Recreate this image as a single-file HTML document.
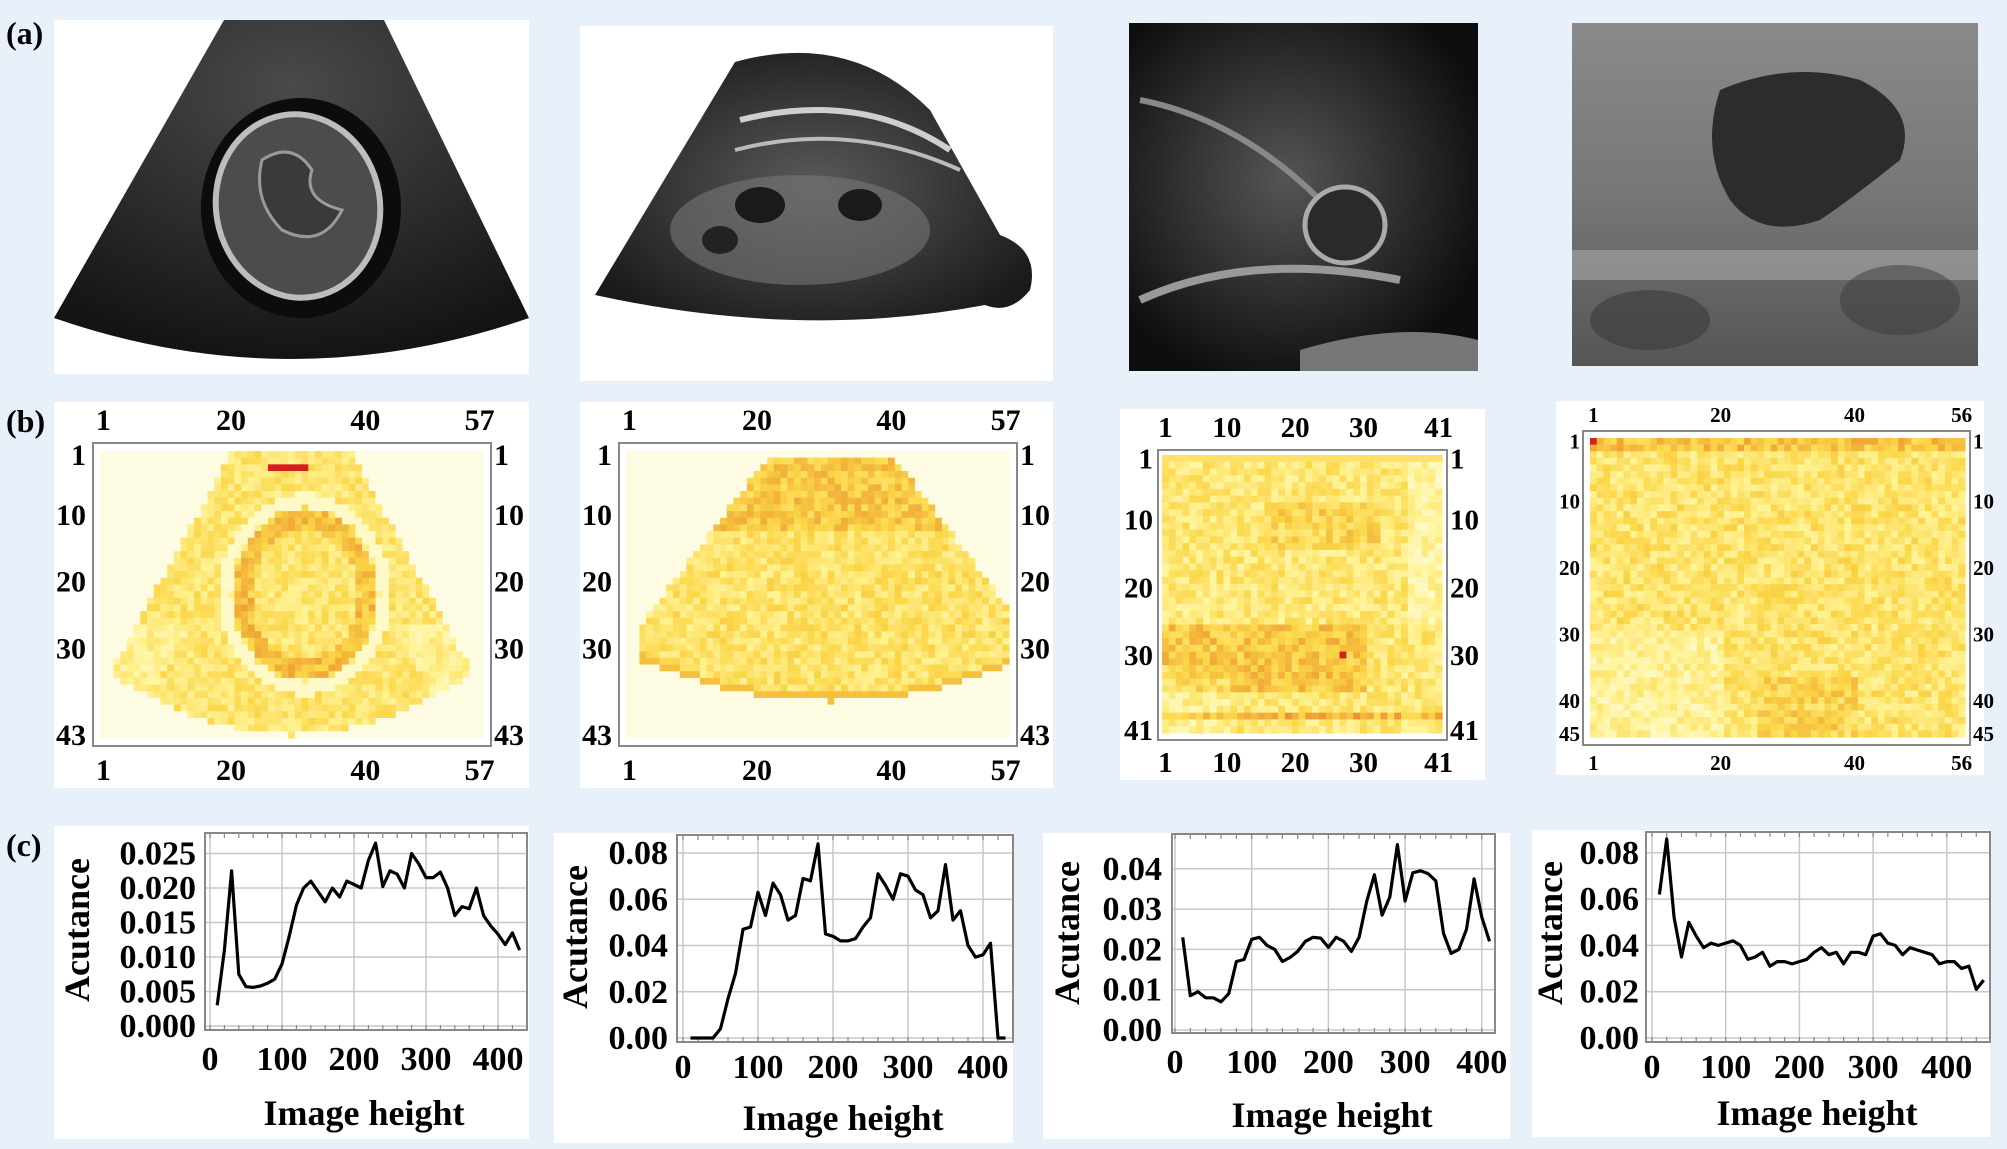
<!DOCTYPE html>
<html><head><meta charset="utf-8">
<style>
html,body{margin:0;padding:0;background:#e8f0fa;}
svg{display:block;font-family:"Liberation Serif",serif;font-weight:bold;}
</style></head>
<body>
<svg id="fig" xmlns="http://www.w3.org/2000/svg" width="2007" height="1149" viewBox="0 0 2007 1149">
<defs>
<radialGradient id="g1" cx="0.5" cy="0.2" r="0.8"><stop offset="0" stop-color="#4a4a4a"/><stop offset="1" stop-color="#141414"/></radialGradient>
<radialGradient id="g2" cx="0.5" cy="0.5" r="0.6"><stop offset="0" stop-color="#5a5a5a"/><stop offset="1" stop-color="#1a1a1a"/></radialGradient>
<radialGradient id="g3" cx="0.45" cy="0.45" r="0.6"><stop offset="0" stop-color="#555"/><stop offset="1" stop-color="#0e0e0e"/></radialGradient>
<linearGradient id="g4" x1="0" y1="0" x2="0" y2="1"><stop offset="0" stop-color="#8a8a8a"/><stop offset="0.5" stop-color="#777"/><stop offset="1" stop-color="#555"/></linearGradient>
</defs>
<rect width="2007" height="1149" fill="#e8f0fa"/>
<text x="6" y="44" font-size="32">(a)</text>
<text x="6" y="432" font-size="32">(b)</text>
<text x="6" y="856" font-size="32">(c)</text>

<g>
<rect x="54" y="20" width="475" height="354" fill="#fff"/>
<path d="M224,20 L384,20 L529,318 Q291,400 54,318 Z" fill="url(#g1)"/>
<ellipse cx="301" cy="208" rx="100" ry="110" fill="#0c0c0c"/>
<ellipse cx="298" cy="206" rx="82" ry="92" fill="#4c4c4c" stroke="#bdbdbd" stroke-width="6" transform="rotate(-10 298 206)"/>
<path d="M262,160 q30,-20 50,10 q-10,30 30,40 q-20,40 -60,20 q-30,-30 -20,-70z" fill="#3a3a3a" stroke="#9a9a9a" stroke-width="3"/>
</g>
<g>
<rect x="580" y="26" width="473" height="355" fill="#fff"/>
<path d="M735,62 Q850,30 930,110 L1000,235 Q1040,250 1030,290 Q1010,315 985,305 Q800,340 595,295 Z" fill="url(#g2)"/>
<path d="M740,120 Q860,90 950,150" stroke="#cfcfcf" stroke-width="6" fill="none"/>
<path d="M735,150 Q850,120 960,170" stroke="#bbb" stroke-width="4" fill="none"/>
<ellipse cx="800" cy="230" rx="130" ry="55" fill="#777" opacity="0.6"/>
<ellipse cx="760" cy="205" rx="25" ry="18" fill="#1a1a1a"/>
<ellipse cx="860" cy="205" rx="22" ry="16" fill="#1a1a1a"/>
<ellipse cx="720" cy="240" rx="18" ry="14" fill="#222"/>
</g>
<g>
<rect x="1129" y="23" width="349" height="348" fill="url(#g3)"/>
<path d="M1140,300 Q1250,250 1400,280" stroke="#999" stroke-width="8" fill="none"/>
<path d="M1140,100 Q1240,120 1320,200" stroke="#888" stroke-width="6" fill="none"/>
<ellipse cx="1345" cy="225" rx="40" ry="38" fill="#2a2a2a" stroke="#aaa" stroke-width="5"/>
<path d="M1300,350 Q1400,320 1478,340 L1478,371 L1300,371Z" fill="#777"/>
</g>
<g>
<rect x="1572" y="23" width="406" height="343" fill="url(#g4)"/>
<path d="M1720,90 Q1790,60 1860,80 Q1920,110 1900,160 Q1850,200 1820,220 Q1760,240 1730,200 Q1700,150 1720,90Z" fill="#2c2c2c"/>
<rect x="1572" y="250" width="406" height="30" fill="#a8a8a8" opacity="0.6"/>
<ellipse cx="1650" cy="320" rx="60" ry="30" fill="#3a3a3a" opacity="0.6"/>
<ellipse cx="1900" cy="300" rx="60" ry="35" fill="#3a3a3a" opacity="0.5"/>
</g>

<rect x="54" y="402" width="475" height="386" fill="#fff"/>
<rect x="580" y="402" width="473" height="386" fill="#fff"/>
<rect x="1120" y="409" width="365" height="371" fill="#fff"/>
<rect x="1556" y="401" width="428" height="374" fill="#fff"/>
<g id="heatmaps"></g>

<rect x="54" y="826" width="475" height="313" fill="#fff"/>
<rect x="554" y="833" width="459" height="310" fill="#fff"/>
<rect x="1043" y="833" width="467" height="306" fill="#fff"/>
<rect x="1532" y="830" width="458" height="307" fill="#fff"/>
<g id="charts"></g>
</svg>
<script>
const c1x = [10,20,30,40,50,60,70,80,90,100,110,120,130,140,150,160,170,180,190,200,210,220,230,240,250,260,270,280,290,300,310,320,330,340,350,360,370,380,390,400,410,420,430];
const c1y = [0.003,0.011,0.0225,0.0075,0.0057,0.0056,0.0058,0.0062,0.0068,0.009,0.013,0.0175,0.020,0.021,0.0195,0.018,0.020,0.0187,0.021,0.0205,0.020,0.024,0.0265,0.0202,0.0225,0.022,0.020,0.025,0.0235,0.0215,0.0215,0.0223,0.020,0.016,0.0173,0.017,0.020,0.016,0.0145,0.0133,0.0118,0.0135,0.011];
const c1ticksY = ["0.000","0.005","0.010","0.015","0.020","0.025"];
const c2x = [10,20,30,40,50,60,70,80,90,100,110,120,130,140,150,160,170,180,190,200,210,220,230,240,250,260,270,280,290,300,310,320,330,340,350,360,370,380,390,400,410,420,430];
const c2y = [0,0,0,0,0.004,0.017,0.028,0.047,0.048,0.063,0.053,0.067,0.062,0.051,0.053,0.069,0.068,0.084,0.045,0.044,0.042,0.042,0.043,0.048,0.052,0.071,0.066,0.060,0.071,0.070,0.064,0.062,0.052,0.055,0.075,0.051,0.055,0.040,0.035,0.036,0.041,0,0];
const c2ticksY = ["0.00","0.02","0.04","0.06","0.08"];
const c3x = [10,20,30,40,50,60,70,80,90,100,110,120,130,140,150,160,170,180,190,200,210,220,230,240,250,260,270,280,290,300,310,320,330,340,350,360,370,380,390,400,410];
const c3y = [0.023,0.0085,0.0095,0.008,0.008,0.007,0.009,0.017,0.0175,0.0225,0.023,0.021,0.020,0.017,0.018,0.0195,0.022,0.023,0.0228,0.0205,0.023,0.022,0.0195,0.023,0.032,0.0385,0.0285,0.033,0.046,0.032,0.039,0.0395,0.0388,0.037,0.024,0.019,0.020,0.025,0.0375,0.028,0.022];
const c3ticksY = ["0.00","0.01","0.02","0.03","0.04"];
const c4x = [10,20,30,40,50,60,70,80,90,100,110,120,130,140,150,160,170,180,190,200,210,220,230,240,250,260,270,280,290,300,310,320,330,340,350,360,370,380,390,400,410,420,430,440,450];
const c4y = [0.062,0.086,0.052,0.035,0.050,0.044,0.039,0.041,0.040,0.041,0.042,0.040,0.034,0.035,0.037,0.031,0.033,0.033,0.032,0.033,0.034,0.037,0.039,0.036,0.037,0.032,0.037,0.037,0.036,0.044,0.045,0.041,0.040,0.036,0.039,0.038,0.037,0.036,0.032,0.033,0.033,0.030,0.031,0.021,0.025];
const c4ticksY = ["0.00","0.02","0.04","0.06","0.08"];
const ticksX = ["0","100","200","300","400"];
const hm1Ticks = ["1","20","40","57"], hm1RowTicks = ["1","10","20","30","43"];
const hm3Ticks = ["1","10","20","30","41"];
const hm4Ticks = ["1","20","40","56"], hm4RowTicks = ["1","10","20","30","40","45"];

const NS = "http://www.w3.org/2000/svg";
function mk(tag, attrs, parent){const e=document.createElementNS(NS,tag);for(const k in attrs)e.setAttribute(k,attrs[k]);parent.appendChild(e);return e;}

const chartsG = document.getElementById('charts');
const chartCfg = [
 {xs:c1x, ys:c1y, ticks:c1ticksY, box:[205,833,527,1030], x0:210, xk:0.72, y0:1026, yk:6900, tickRight:196, xlab:1070, title:[364,1125], ac:[77,930]},
 {xs:c2x, ys:c2y, ticks:c2ticksY, box:[677,835,1013,1042], x0:683, xk:0.75, y0:1038, yk:2312, tickRight:668, xlab:1078, title:[843,1130], ac:[575,937]},
 {xs:c3x, ys:c3y, ticks:c3ticksY, box:[1172,834,1495,1033], x0:1175, xk:0.767, y0:1030, yk:4030, tickRight:1162, xlab:1073, title:[1332,1127], ac:[1067,933]},
 {xs:c4x, ys:c4y, ticks:c4ticksY, box:[1646,832,1990,1042], x0:1652, xk:0.737, y0:1038, yk:2315, tickRight:1639, xlab:1078, title:[1817,1125], ac:[1550,933]}
];
chartCfg.forEach((c,i)=>{
  const g = mk('g',{},chartsG);
  
  
  const [bx0,by0,bx1,by1]=c.box;
  const X=v=>c.x0+v*c.xk, Y=v=>c.y0-v*c.yk;
  ticksX.forEach(t=>{const x=X(+t); if(x>bx0+2&&x<bx1-2){const l=mk('line',{x1:x,x2:x,y1:by0,y2:by1,stroke:'#c8c8c8','stroke-width':1.5},g);  }});
  c.ticks.forEach(t=>{const y=Y(+t); if(y>by0+2&&y<by1-2){const l=mk('line',{x1:bx0,x2:bx1,y1:y,y2:y,stroke:'#c8c8c8','stroke-width':1.5},g);  }});
  const fr=mk('rect',{x:bx0,y:by0,width:bx1-bx0,height:by1-by0,fill:'none',stroke:'#888','stroke-width':2},g);
   
  for(let v=0; X(v)<bx1; v+=20){const x=X(v); if(x<=bx0)continue; mk('line',{x1:x,x2:x,y1:by1,y2:by1-5,stroke:'#888','stroke-width':1.2},g); mk('line',{x1:x,x2:x,y1:by0,y2:by0+5,stroke:'#888','stroke-width':1.2},g);}
  c.ticks.forEach(t=>{const tx=mk('text',{x:c.tickRight,y:Y(+t)+11,'font-size':34,'text-anchor':'end'},g); tx.textContent=t;  });
  ticksX.forEach(t=>{const tx=mk('text',{x:X(+t),y:c.xlab,'font-size':34,'text-anchor':'middle'},g); tx.textContent=t;  });
  const ti=mk('text',{x:c.title[0],y:c.title[1],'font-size':36,'text-anchor':'middle'},g); ti.textContent='Image height';
   
  const ac=mk('text',{x:0,y:0,'font-size':36,'text-anchor':'middle',transform:`translate(${c.ac[0]+12},${c.ac[1]}) rotate(-90)`},g); ac.textContent='Acutance';
   
  const pts=c.xs.map((x,k)=>X(x).toFixed(1)+','+Y(c.ys[k]).toFixed(1)).join(' ');
  const pl=mk('polyline',{points:pts,fill:'none',stroke:'#000','stroke-width':3.2,'stroke-linejoin':'round'},g);
   
});

function hash(a,b,s){let h=(a*374761393+b*668265263+s*982451653)|0;h=(h^(h>>>13))*1274126177|0;h=h^(h>>>16);return ((h>>>0)%10000)/10000;}
const stops=[[0,[253,253,232]],[0.3,[255,243,150]],[0.55,[251,214,72]],[0.78,[238,160,52]],[1,[214,30,30]]];
function col(v){v=Math.max(0,Math.min(1,v));for(let i=1;i<stops.length;i++){if(v<=stops[i][0]){const [a,ca]=stops[i-1],[b,cb]=stops[i];const t=(v-a)/(b-a);return 'rgb('+ca.map((x,j)=>Math.round(x+(cb[j]-x)*t)).join(',')+')';}}return 'rgb(214,30,30)';}
function v1(r,c){const hw=9+r*0.55;if(Math.abs(c-28)>hw)return 0.02;if(r>42-Math.pow((c-28)/28,2)*10)return 0.02;
  if(r===2&&c>=25&&c<=30)return 1;let v=0.3+hash(r,c,1)*0.25;const edge=hw-Math.abs(c-28);if(r>25&&edge<8)v-=0.12;
  const d=Math.hypot((c-30)/11,(r-21)/13);if(Math.abs(d-0.85)<0.12)v+=0.22;if(Math.abs(d-1.08)<0.08)v=0.12;return v;}
function v2(r,c){if(r<1)return 0.02;const hw=Math.min(28,9+r*0.75);if(Math.abs(c-30)>hw)return 0.02;const bot=37-Math.pow((c-30)/28,2)*6;if(r>bot)return 0.02;
  let v=0.3+hash(r,c,2)*0.28;if(r<12)v+=0.15;if(hw-Math.abs(c-30)<1.2&&c>40&&r>24)v=0.85;if(r>=bot-1)v=0.65;return v;}
function v3(r,c){if(r===0)return 0.45;let v=0.25+hash(r,c,3)*0.3;if(r>=25&&r<=34&&c<30)v+=0.2;if(r>=7&&r<=13&&c>14&&c<32)v+=0.12;if(r===38)v+=0.25;if(r>30&&c<10)v-=0.1;if(r===29&&c===26)v=1;if(c>35&&r<25)v-=0.15;return v;}
function v4(r,c){if(r===0&&c===0)return 1;let v=0.28+hash(r,c,4)*0.3;if(r<=1)v+=0.18;if(r>28&&c<20)v-=0.15;if(r>35&&c>24&&c<40)v+=0.1;return v;}
const hmG=document.getElementById('heatmaps');
const hms=[
 {f:v1,cols:57,rows:43,cx:[100,483],cy:[451,738],fr:[93,443,491,746],ct:hm1Ticks,rt:hm1RowTicks,fs:30,topY:430,botY:780,lx:86,rx:494},
 {f:v2,cols:57,rows:43,cx:[626,1009],cy:[451,738],fr:[619,443,1017,746],ct:hm1Ticks,rt:hm1RowTicks,fs:30,topY:430,botY:780,lx:612,rx:1020},
 {f:v3,cols:41,rows:41,cx:[1162,1442],cy:[455,733],fr:[1158,450,1447,740],ct:hm3Ticks,rt:hm3Ticks,fs:29,topY:437,botY:772,lx:1153,rx:1450},
 {f:v4,cols:56,rows:45,cx:[1590,1965],cy:[438,737],fr:[1583,431,1970,745],ct:hm4Ticks,rt:hm4RowTicks,fs:21,topY:422,botY:770,lx:1580,rx:1973}
];
hms.forEach((h,i)=>{
  const g=mk('g',{},hmG);
  
  
  const cw=(h.cx[1]-h.cx[0])/h.cols, ch=(h.cy[1]-h.cy[0])/h.rows;
  for(let r=0;r<h.rows;r++)for(let c=0;c<h.cols;c++){
    const rc=mk('rect',{x:(h.cx[0]+c*cw).toFixed(2),y:(h.cy[0]+r*ch).toFixed(2),width:(cw+0.6).toFixed(2),height:(ch+0.6).toFixed(2),fill:col(h.f(r,c))},g);
    
    
  }
  const [a,b,cc,d]=h.fr;
  const fr=mk('rect',{x:a,y:b,width:cc-a,height:d-b,fill:'none',stroke:'#888','stroke-width':2},g);
   
  const CX=n=>h.cx[0]+(n-0.5)*cw, CY=n=>h.cy[0]+(n-0.5)*ch;
  h.ct.forEach(t=>{[h.topY,h.botY].forEach(y=>{const tx=mk('text',{x:CX(+t),y:y,'font-size':h.fs,'text-anchor':'middle'},g);tx.textContent=t;});});
  h.rt.forEach(t=>{
    const l=mk('text',{x:h.lx,y:CY(+t)+h.fs*0.35,'font-size':h.fs,'text-anchor':'end'},g);l.textContent=t;
    const rr=mk('text',{x:h.rx,y:CY(+t)+h.fs*0.35,'font-size':h.fs,'text-anchor':'start'},g);rr.textContent=t;
  });
});
</script>
</body></html>
